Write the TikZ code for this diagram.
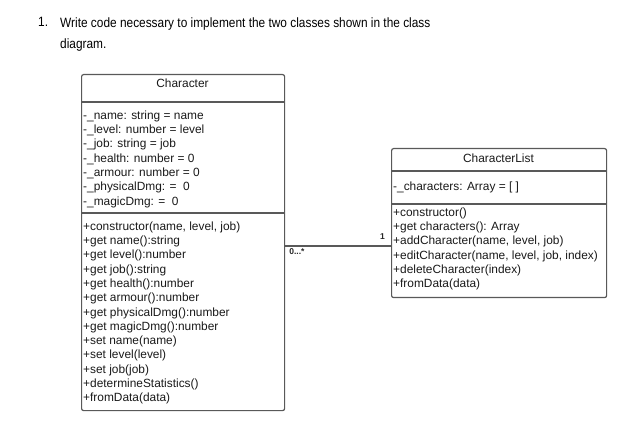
\documentclass[tikz,border=0pt]{standalone}
\usepackage{fontspec}
\setmainfont{Liberation Sans}
\newfontfamily\titlefont[FakeStretch=0.88]{Liberation Sans}
\usepackage{tikz}
\usetikzlibrary{positioning}

\begin{document}
\begin{tikzpicture}[
        x=1pt, y=-1pt,
        classbox/.style={draw=black!65, line width=1.2pt, rounded corners=2pt, inner sep=0pt, anchor=north west},
        divider/.style={draw=black!65, line width=1.2pt},
        members/.style={anchor=north west, inner sep=0pt, align=left, text=black!90, font=\fontsize{11.9}{14.3}\selectfont},
        classname/.style={anchor=base, inner sep=0pt, text=black!90, font=\fontsize{11.9}{14.3}\selectfont},
        mult/.style={inner sep=0pt, font=\fontsize{8.5}{10}\selectfont\bfseries, text=black!85}
    ]
        \useasboundingbox (0,0) rectangle (640,438);

        % question text
        \node[anchor=base west, inner sep=0pt, font=\titlefont\fontsize{13.5}{21.5}\selectfont] (num) at (38,27) {1.};
        \node[anchor=north west, inner sep=0pt, align=left, font=\titlefont\fontsize{13.5}{21.5}\selectfont] (question) at (60,12)
            {\strut Write code necessary to implement the two classes shown in the class\\diagram.};

        % Character class
        \node[classbox, minimum width=203, minimum height=336] (char) at (81,74) {};
        \draw[divider] (char.west |- 0,102) -- (char.east |- 0,102);
        \draw[divider] (char.west |- 0,213) -- (char.east |- 0,213);
        \node[classname] (charname) at (182.5,88) {Character};
        \node[members] (charattr) at (83,109) {\strut-\_name: string = name\\-\_level: number = level\\-\_job: string = job\\-\_health: number = 0\\-\_armour: number = 0\\-\_physicalDmg: =\ \ 0\\-\_magicDmg: =\ \ 0};
        \node[members] (charops) at (83,220) {\strut+constructor(name, level, job)\\+get name():string\\+get level():number\\+get job():string\\+get health():number\\+get armour():number\\+get physicalDmg():number\\+get magicDmg():number\\+set name(name)\\+set level(level)\\+set job(job)\\+determineStatistics()\\+fromData(data)};

        % CharacterList class
        \node[classbox, minimum width=215, minimum height=149] (list) at (391,148) {};
        \draw[divider] (list.west |- 0,171) -- (list.east |- 0,171);
        \draw[divider] (list.west |- 0,204) -- (list.east |- 0,204);
        \node[classname] (listname) at (498.5,162.5) {CharacterList};
        \node[members] (listattr) at (393,180) {\strut-\_characters: Array = [ ]};
        \node[members] (listops) at (393,206) {\strut+constructor()\\+get characters(): Array\\+addCharacter(name, level, job)\\+editCharacter(name, level, job, index)\\+deleteCharacter(index)\\+fromData(data)};

        % association
        \coordinate (assoc) at (0,246);
        \draw[divider] (char.east |- assoc) -- (list.west |- assoc);
        \node[mult, anchor=base east] (one) at ([xshift=-6pt, yshift=6pt]list.west |- assoc) {1};
        \node[mult, anchor=base west] (many) at ([xshift=4pt, yshift=-9pt]char.east |- assoc) {0...*};
    \end{tikzpicture}
\end{document}
